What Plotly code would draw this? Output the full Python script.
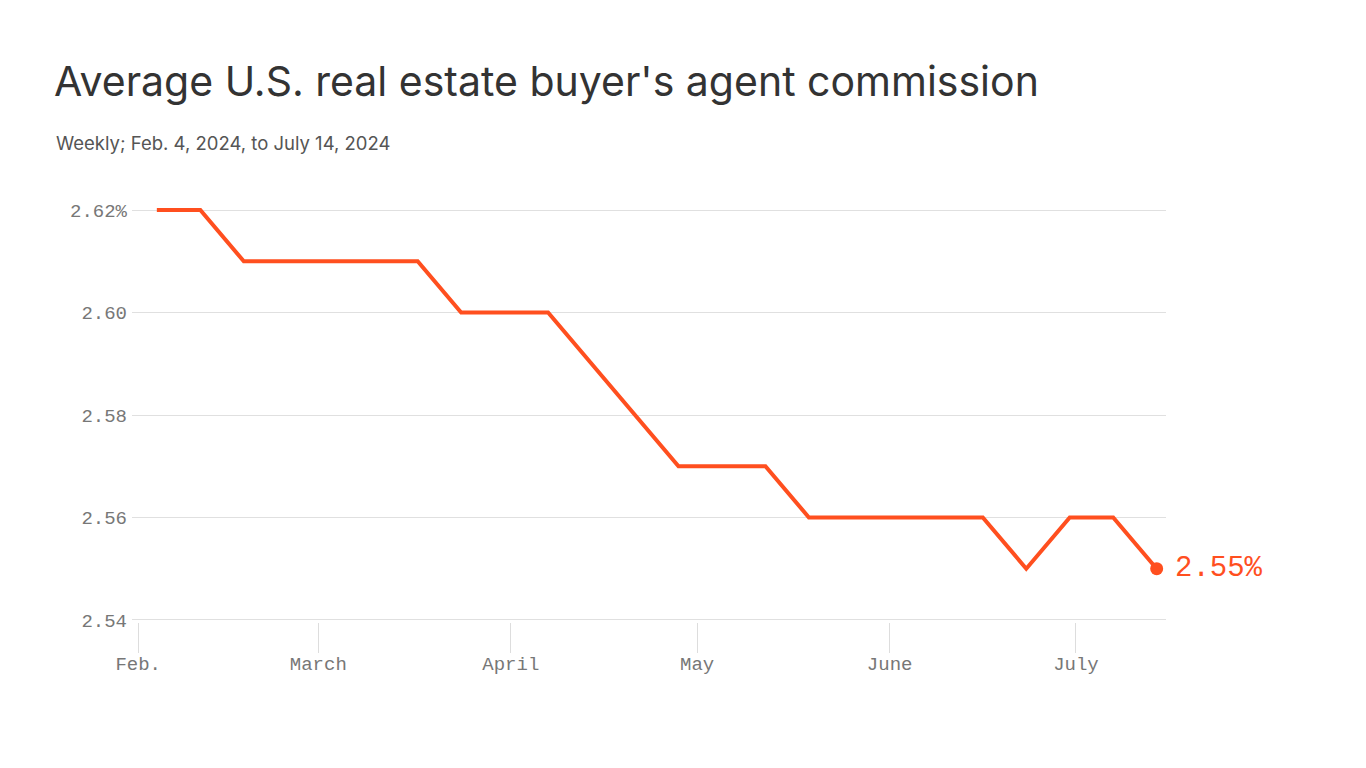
import plotly.graph_objects as go

weeks = ["2024-02-04", "2024-02-11", "2024-02-18", "2024-02-25", "2024-03-03",
         "2024-03-10", "2024-03-17", "2024-03-24", "2024-03-31", "2024-04-07",
         "2024-04-14", "2024-04-21", "2024-04-28", "2024-05-05", "2024-05-12",
         "2024-05-19", "2024-05-26", "2024-06-02", "2024-06-09", "2024-06-16",
         "2024-06-23", "2024-06-30", "2024-07-07", "2024-07-14"]
commission = [2.62, 2.62, 2.61, 2.61, 2.61, 2.61, 2.61, 2.60, 2.60, 2.60,
              2.59, 2.58, 2.57, 2.57, 2.57, 2.56, 2.56, 2.56, 2.56, 2.56,
              2.55, 2.56, 2.56, 2.55]

month_ticks = ["2024-02-01", "2024-03-01", "2024-04-01", "2024-05-01", "2024-06-01", "2024-07-01"]
month_labels = ["Feb.", "March", "April", "May", "June", "July"]
y_ticks = [2.54, 2.56, 2.58, 2.60, 2.62]
y_labels = ["2.54", "2.56", "2.58", "2.60", "2.62%"]

ORANGE = "#FF4F1F"
MONO = "Liberation Mono"

fig = go.Figure()
fig.add_trace(go.Scatter(x=weeks, y=commission, mode="lines",
                         line=dict(color=ORANGE, width=4), hoverinfo="x+y"))
fig.add_trace(go.Scatter(x=[weeks[-1]], y=[commission[-1]], mode="markers",
                         marker=dict(color=ORANGE, size=13), hoverinfo="skip"))

fig.add_annotation(x=weeks[-1], y=commission[-1], text=f"{commission[-1]:.2f}%",
                   showarrow=False, xanchor="left", yanchor="middle", xshift=16,
                   font=dict(family=MONO, size=29, color=ORANGE))

fig.update_layout(
    width=1366, height=768,
    margin=dict(l=132, r=200, t=208, b=146),
    paper_bgcolor="white", plot_bgcolor="white",
    showlegend=False,
    title=dict(text="Average U.S. real estate buyer's agent commission",
               x=54 / 1366, xanchor="left", y=1 - 82 / 768, yanchor="middle",
               font=dict(family="Inter", size=41, color="#333333")),
    xaxis=dict(range=["2024-01-31", "2024-07-15 12:00"], tickvals=month_ticks,
               ticktext=month_labels, showgrid=False, zeroline=False, showline=False,
               ticks="outside", ticklen=30, tickcolor="#dddddd", tickwidth=1,
               ticklabelstandoff=-6,
               tickfont=dict(family=MONO, size=19, color="#777777")),
    yaxis=dict(range=[2.5396, 2.6204], tickvals=y_ticks, ticktext=y_labels,
               showgrid=True, gridcolor="#e0e0e0", gridwidth=1, zeroline=False,
               showline=False, ticks="", ticklabelstandoff=4,
               tickfont=dict(family=MONO, size=19, color="#777777")),
)
fig.add_annotation(text="Weekly; Feb. 4, 2024, to July 14, 2024", xref="paper", yref="paper",
                   x=-(132 - 54) / (1366 - 332), xanchor="left", y=1 + (208 - 143) / 414,
                   yanchor="middle", showarrow=False,
                   font=dict(family="Inter", size=18.5, color="#555555"))

fig.write_html("out.html")
